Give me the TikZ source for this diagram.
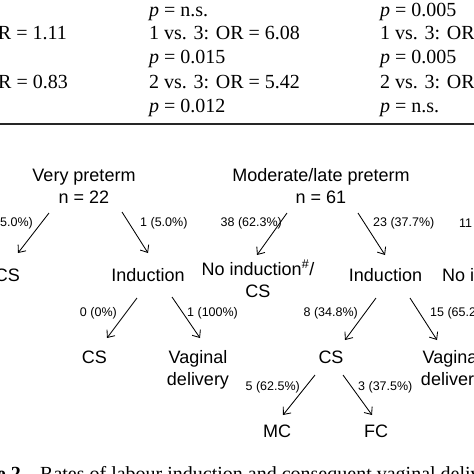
\documentclass[tikz,border=0pt]{standalone}
\usepackage{fontspec}
\setmainfont{Liberation Serif}
\newfontfamily\diagsans{Liberation Sans}
\usetikzlibrary{arrows.meta,calc}
\begin{document}
\begin{tikzpicture}[x=1pt,y=-1pt,
  tab/.style={anchor=base west,inner sep=0pt,font=\fontsize{20}{24}\selectfont},
  tabr/.style={anchor=base east,inner sep=0pt,font=\fontsize{20}{24}\selectfont},
  box/.style={anchor=base,inner sep=0pt,align=center,font=\diagsans\fontsize{18}{22}\selectfont},
  lab/.style={inner sep=0pt,font=\diagsans\fontsize{12.5}{15}\selectfont},
  arr/.style={line width=0.85pt,-{Straight Barb[length=6pt,width=10pt,line width=0.85pt]}},
  captext/.style={inner sep=0pt,font=\fontsize{20}{24}\selectfont}]
\useasboundingbox (0,0) rectangle (474,474);
\clip (0,0) rectangle (474,474);
% table fragment
\node[tab] (t11) at (149,16) {\textit{p} = n.s.};
\node[tab] (t12) at (380,16) {\textit{p} = 0.005};
\node[tabr] (t20) at (67,39) {OR = 1.11};
\node[tab] (t21) at (149,39) {1 vs. 3: OR = 6.08};
\node[tab] (t22) at (380,39) {1 vs. 3: OR};
\node[tab] (t31) at (149,63) {\textit{p} = 0.015};
\node[tab] (t32) at (380,63) {\textit{p} = 0.005};
\node[tabr] (t40) at (68,88) {OR = 0.83};
\node[tab] (t41) at (149,88) {2 vs. 3: OR = 5.42};
\node[tab] (t42) at (380,88) {2 vs. 3: OR};
\node[tab] (t51) at (149,112) {\textit{p} = 0.012};
\node[tab] (t52) at (380,112) {\textit{p} = n.s.};
\draw[line width=2pt,black!85] (0,124) -- (474,124);
% tree nodes (base = baseline of last line)
\node[box] (vp) at (84,203) {Very preterm\\n = 22};
\node[box] (mp) at (321,203) {Moderate/late preterm\\n = 61};
\node[box] (csA) at (7.5,281) {CS};
\node[box] (indA) at (148,281) {Induction};
\node[box] (noA) at (258,297) {No induction\textsuperscript{\#}/\\CS};
\node[box] (indB) at (385.5,281) {Induction};
\node[box,anchor=base west] (noC) at (442,281) {No induction};
\node[box] (csB) at (94.5,363) {CS};
\node[box] (vdA) at (198,385) {Vaginal\\delivery};
\node[box] (csC) at (331,363) {CS};
\node[box] (vdB) at (452,385) {Vaginal\\delivery};
\node[box] (mc) at (277,437) {MC};
\node[box] (fc) at (376,437) {FC};
% labels
\node[lab,anchor=east] (l1) at (33,223) {19 (95.0\%)};
\node[lab,anchor=west] (l2) at (140,223) {1 (5.0\%)};
\node[lab,anchor=east] (l3) at (282,223) {38 (62.3\%)};
\node[lab,anchor=west] (l4) at (373,223) {23 (37.7\%)};
\node[lab,anchor=west] (l5) at (459,223) {11};
\node[lab,anchor=east] (l6) at (117,313) {0 (0\%)};
\node[lab,anchor=west] (l7) at (187,313) {1 (100\%)};
\node[lab,anchor=east] (l8) at (358,313) {8 (34.8\%)};
\node[lab,anchor=west] (l9) at (430,313) {15 (65.2\%)};
\node[lab,anchor=east] (l10) at (300,387) {5 (62.5\%)};
\node[lab,anchor=west] (l11) at (358,387) {3 (37.5\%)};
% connectors
\draw[arr] ($(vp.base)+(-35,10)$) -- ($(csA.base)+(10.5,-28)$);
\draw[arr] ($(vp.base)+(38,9)$) -- ($(indA.base)+(0,-28)$);
\draw[arr] ($(mp.base)+(-34,10)$) -- ($(noA.base)+(-1,-42)$);
\draw[arr] ($(mp.base)+(37,10)$) -- ($(indB.base)+(-0.5,-26)$);
\draw[arr] ($(indA.base)+(-11,17)$) -- ($(csB.base)+(12.5,-25)$);
\draw[arr] ($(indA.base)+(24,16)$) -- ($(vdA.base)+(2,-47)$);
\draw[arr] ($(indB.base)+(-9.5,17)$) -- ($(csC.base)+(14,-23)$);
\draw[arr] ($(indB.base)+(24.5,17)$) -- ($(vdB.base)+(-15,-45)$);
\draw[arr] ($(csC.base)+(-16,12)$) -- ($(mc.base)+(6,-22)$);
\draw[arr] ($(csC.base)+(12,12)$) -- ($(fc.base)+(-4,-22)$);
% caption (cut off)
\node[captext,anchor=base east] (capA) at (26,480) {\textbf{Figure 2.}};
\node[captext,anchor=base west] (capB) at (40,480) {Rates of labour induction and consequent vaginal delivery};
\end{tikzpicture}
\end{document}
